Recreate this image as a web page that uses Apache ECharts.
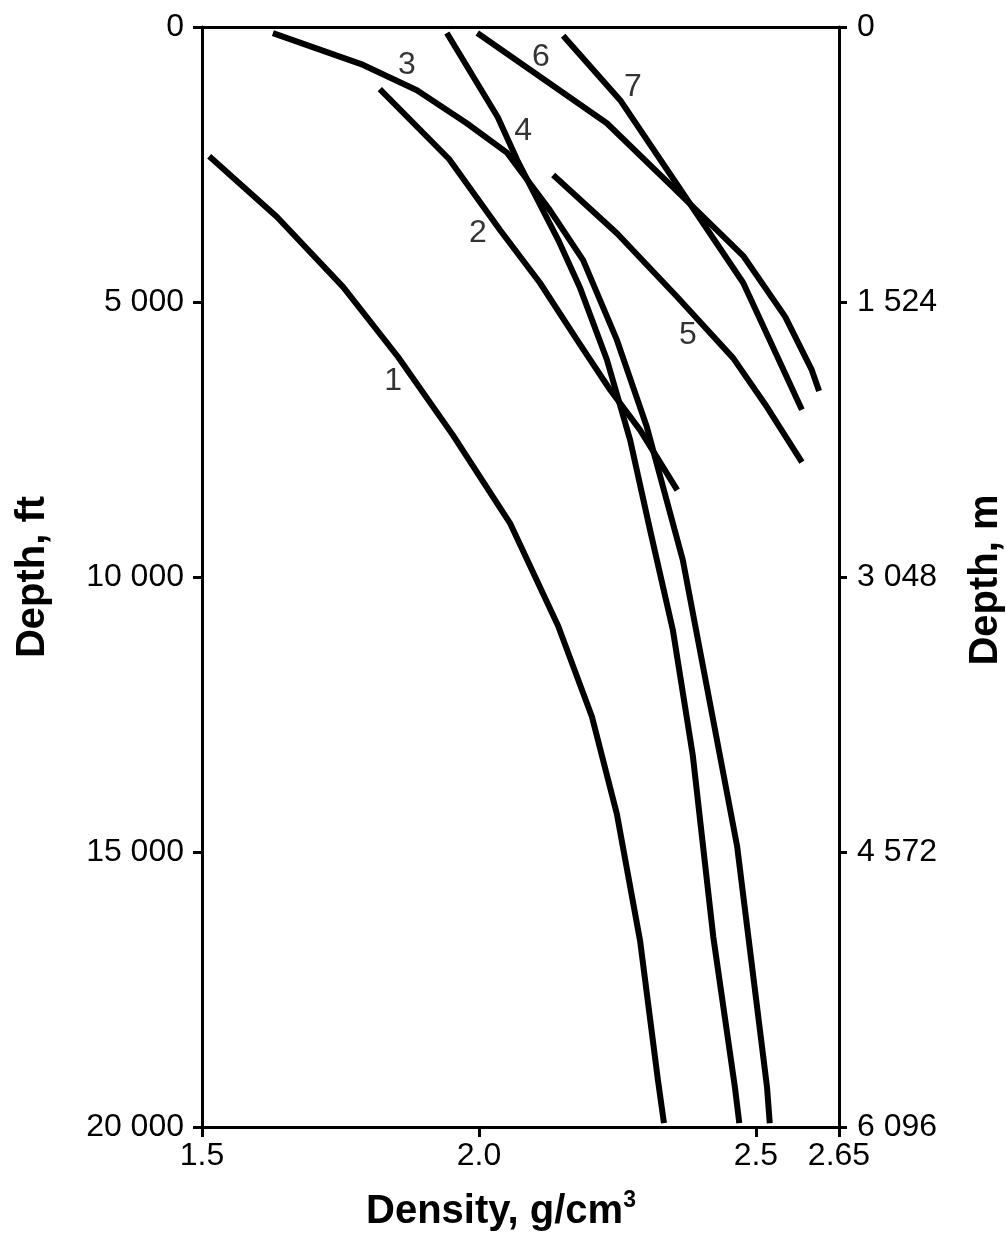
<!DOCTYPE html>
<html>
<head>
<meta charset="utf-8">
<script src="https://cdn.jsdelivr.net/npm/echarts@6/dist/echarts.min.js"></script>
<style>
html,body{margin:0;padding:0;background:#fff;}
#chart{width:1006px;height:1234px;}
</style>
</head>
<body>
<div id="chart"></div>
<script>
// ---- Data (density g/cm3, depth ft) ----
const curve1Density = [1.513,1.635,1.755,1.854,1.953,2.056,2.143,2.204,2.249,2.291,2.323,2.334];
const curve1Depth   = [2350,3450,4730,6000,7420,9020,10890,12540,14310,16620,19140,19930];

const curve2Density = [1.821,1.946,2.038,2.110,2.177,2.237,2.291,2.358];
const curve2Depth   = [1130,2400,3690,4650,5690,6600,7330,8420];

const curve3Density = [1.628,1.791,1.888,1.978,2.051,2.128,2.188,2.249,2.303,2.368,2.466,2.520,2.525];
const curve3Depth   = [110,690,1150,1750,2290,3330,4240,5690,7270,9690,14890,19270,19930];

const curve4Density = [1.942,2.034,2.069,2.143,2.182,2.231,2.273,2.309,2.350,2.386,2.423,2.462,2.470];
const curve4Depth   = [110,1640,2420,3870,4730,6050,7510,9150,10960,13240,16540,19270,19930];

const curve5Density = [2.134,2.249,2.358,2.459,2.520,2.583];
const curve5Depth   = [2690,3750,4910,6020,6910,7910];

const curve6Density = [1.997,2.231,2.350,2.477,2.553,2.601,2.614];
const curve6Depth   = [110,1750,2910,4160,5270,6240,6620];

const curve7Density = [2.152,2.255,2.340,2.477,2.583];
const curve7Depth   = [160,1330,2600,4650,6960];

const curveLabelText    = ['1','2','3','4','5','6','7'];
const curveLabelDensity = [1.845,1.998,1.870,2.080,2.377,2.112,2.278];
const curveLabelDepth   = [6445,3745,690,1890,5610,545,1090];

const xTickValues = [1.5, 2.0, 2.5, 2.65];
const xTickLabels = ['1.5', '2.0', '2.5', '2.65'];
const ftTickValues = [0, 5000, 10000, 15000, 20000];
const ftTickLabels = ['0', '5 000', '10 000', '15 000', '20 000'];
const mTickLabels  = ['0', '1 524', '3 048', '4 572', '6 096'];

// ---- Build ----
const FONT = 'Liberation Sans, Arial, Helvetica, sans-serif';
function pairs(xs, ys){ return xs.map((x,i)=>[x, ys[i]]); }
function lookup(vals, labels, v){
  for (let i=0;i<vals.length;i++) if (Math.abs(vals[i]-v) < 1e-6) return labels[i];
  return '';
}
const curves = [
  [curve1Density, curve1Depth],
  [curve2Density, curve2Depth],
  [curve3Density, curve3Depth],
  [curve4Density, curve4Depth],
  [curve5Density, curve5Depth],
  [curve6Density, curve6Depth],
  [curve7Density, curve7Depth]
];

const axisLineStyle = {color:'#000', width:3};
const series = curves.map((c, i) => ({
  type:'line',
  name:'Curve ' + (i+1),
  data: pairs(c[0], c[1]),
  showSymbol:false,
  symbol:'none',
  smooth:false,
  lineStyle:{color:'#000', width:6, join:'round', cap:'butt'},
  silent:true,
  animation:false,
  z:3
}));
series.push({
  type:'scatter',
  data: curveLabelText.map((t,i)=>({value:[curveLabelDensity[i], curveLabelDepth[i]], name:t})),
  symbolSize:1,
  itemStyle:{color:'rgba(0,0,0,0)'},
  label:{show:true, position:'inside', formatter:(p)=>p.name, color:'#000', fontSize:32, fontFamily:FONT},
  silent:true,
  animation:false,
  z:4
});

const chart = echarts.init(document.getElementById('chart'), null, {renderer:'canvas'});
chart.setOption({
  backgroundColor:'#fff',
  animation:false,
  grid:{left:202, top:27, width:637, height:1100, containLabel:false, outerBoundsMode:'none'},
  xAxis:[{
    type:'value', position:'bottom', min:1.5, max:2.65, interval:0.5,
    axisLine:{show:true, onZero:false, lineStyle:axisLineStyle},
    axisTick:{show:true, inside:false, length:10, lineStyle:{color:'#000', width:3}},
    axisLabel:{show:true, margin:13, color:'#000', fontSize:32, fontFamily:FONT,
      showMinLabel:true, showMaxLabel:true, hideOverlap:false,
      formatter:(v)=>lookup(xTickValues, xTickLabels, v)},
    splitLine:{show:false}
  },{
    type:'value', position:'top', min:1.5, max:2.65,
    axisLine:{show:true, onZero:false, lineStyle:axisLineStyle},
    axisTick:{show:false}, axisLabel:{show:false}, splitLine:{show:false}
  }],
  yAxis:[{
    type:'value', position:'left', inverse:true, min:0, max:20000, interval:5000,
    axisLine:{show:true, onZero:false, lineStyle:axisLineStyle},
    axisTick:{show:true, inside:false, length:9, lineStyle:{color:'#000', width:3}},
    axisLabel:{show:true, margin:18, color:'#000', fontSize:32, fontFamily:FONT,
      padding:[6,0,0,0],
      showMinLabel:true, showMaxLabel:true,
      formatter:(v)=>lookup(ftTickValues, ftTickLabels, v)},
    splitLine:{show:false}
  },{
    type:'value', position:'right', inverse:true, min:0, max:20000, interval:5000,
    axisLine:{show:true, onZero:false, lineStyle:axisLineStyle},
    axisTick:{show:true, inside:false, length:8, lineStyle:{color:'#000', width:3}},
    axisLabel:{show:true, margin:18, color:'#000', fontSize:32, fontFamily:FONT,
      padding:[6,0,0,0],
      showMinLabel:true, showMaxLabel:true,
      formatter:(v)=>lookup(ftTickValues, mTickLabels, v)},
    splitLine:{show:false}
  }],
  series: series,
  graphic:[
    {type:'text', x:33, y:577, rotation:Math.PI/2, silent:true,
      style:{text:'Depth, ft', fill:'#000', fontSize:40, fontWeight:'bold', fontFamily:FONT, align:'center', verticalAlign:'middle'}},
    {type:'text', x:986, y:580, rotation:Math.PI/2, silent:true,
      style:{text:'Depth, m', fill:'#000', fontSize:40, fontWeight:'bold', fontFamily:FONT, align:'center', verticalAlign:'middle'}},
    {type:'text', x:501, y:1212, silent:true,
      style:{text:'{a|Density, g/cm}{b|3}', align:'center', verticalAlign:'middle',
        rich:{
          a:{fill:'#000', fontSize:40, fontWeight:'bold', fontFamily:FONT, lineHeight:46},
          b:{fill:'#000', fontSize:23, fontWeight:'bold', fontFamily:FONT, lineHeight:30, verticalAlign:'top'}
        }}}
  ]
});
</script>
</body>
</html>
